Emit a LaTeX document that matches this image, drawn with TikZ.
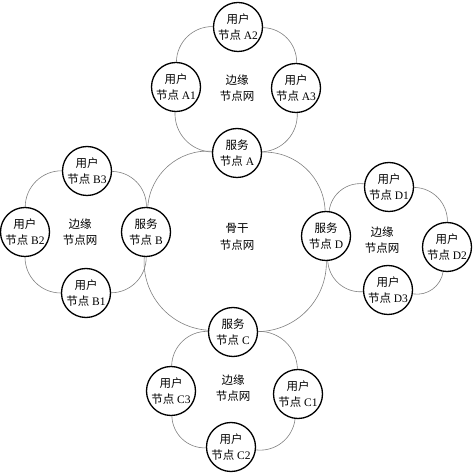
\documentclass[tikz,border=0pt]{standalone}
\usepackage{fontspec}
\setmainfont{Liberation Serif}
\newfontfamily\cjk{Noto Sans CJK SC}
\newcommand{\usernode}[1]{{\cjk 用户}\\{\cjk 节点}~#1}
\newcommand{\servnode}[1]{{\cjk 服务}\\{\cjk 节点}~#1}
\begin{document}
\begin{tikzpicture}[x=1pt,y=1pt,
  nd/.style={circle,draw=black,line width=1.3pt,fill=white,minimum size=49pt,inner sep=0pt,
    align=center,font=\fontsize{11.5}{16.5}\selectfont},
  lbl/.style={align=center,font=\cjk\fontsize{11.5}{16.5}\selectfont},
  ring/.style={draw=black!50,line width=0.6pt,bend left=45}]
\useasboundingbox (0,0) rectangle (474,474);
% nodes
\node[nd] (A2) at (238,447) {\usernode{A2}};
\node[nd] (A1) at (176,387) {\usernode{A1}};
\node[nd] (A3) at (296,386) {\usernode{A3}};
\node[nd] (A)  at (237,321) {\servnode{A}};
\node[nd] (B3) at (87,303) {\usernode{B3}};
\node[nd] (B2) at (25,242) {\usernode{B2}};
\node[nd] (B1) at (86,181) {\usernode{B1}};
\node[nd] (B)  at (146,242) {\servnode{B}};
\node[nd] (D)  at (326,238) {\servnode{D}};
\node[nd] (D1) at (389,287) {\usernode{D1}};
\node[nd] (D2) at (447,227) {\usernode{D2}};
\node[nd] (D3) at (388,184) {\usernode{D3}};
\node[nd] (C)  at (233,142) {\servnode{C}};
\node[nd] (C3) at (171,83) {\usernode{C3}};
\node[nd] (C1) at (298,80) {\usernode{C1}};
\node[nd] (C2) at (231,27) {\usernode{C2}};
% labels
\node[lbl] (LA) at (237,386) {边缘\\节点网};
\node[lbl] (LB) at (80,242) {边缘\\节点网};
\node[lbl] (LD) at (382,234) {边缘\\节点网};
\node[lbl] (LC) at (233,86) {边缘\\节点网};
\node[lbl] (LM) at (237,237) {骨干\\节点网};
% rings (clockwise, outward bulge)
\path[ring] (A2) to (A3) (A3) to (A) (A) to (A1) (A1) to (A2);
\path[ring] (B3) to (B) (B) to (B1) (B1) to (B2) (B2) to (B3);
\path[ring] (D1) to (D2) (D2) to (D3) (D3) to (D) (D) to (D1);
\path[ring] (C) to (C1) (C1) to (C2) (C2) to (C3) (C3) to (C);
\path[ring] (A) to (D) (D) to (C) (C) to (B) (B) to (A);
\end{tikzpicture}
\end{document}
